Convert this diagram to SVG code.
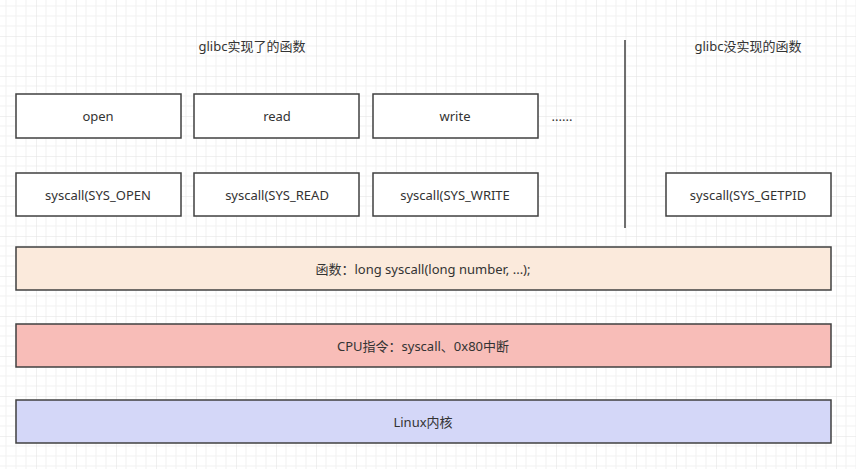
<svg xmlns="http://www.w3.org/2000/svg" width="856" height="469" viewBox="0 0 856 469">
<defs>
<pattern id="g" width="40" height="40" patternUnits="userSpaceOnUse" x="-4" y="-4">
<path d="M0 0H40M0 10H40M0 20H40M0 30H40M0 0V40M10 0V40M20 0V40M30 0V40" stroke="#f1f1f1" stroke-width="1" fill="none"/>
<path d="M0 0H40M0 0V40" stroke="#e6e6e6" stroke-width="1" fill="none"/>
</pattern>
</defs>
<style>
.b{fill:#fff;stroke:#404040;stroke-width:1.5}
text{font-family:"Noto Sans","Noto Sans CJK SC",sans-serif;font-size:13px;fill:#333;text-anchor:middle;dominant-baseline:central}
</style>
<rect width="856" height="469" fill="#fff"/>
<rect width="856" height="469" fill="url(#g)"/>
<text x="252" y="46">glibc实现了的函数</text>
<text x="748" y="46">glibc没实现的函数</text>
<g id="connectors"><line x1="625" y1="40" x2="625" y2="228" stroke="#404040" stroke-width="1.5"/></g>
<g id="open"><rect class="b" x="16" y="94" width="165" height="44"/><text x="98" y="116">open</text></g>
<g id="read"><rect class="b" x="194" y="94" width="165" height="44"/><text x="277" y="116">read</text></g>
<g id="write"><rect class="b" x="373" y="94" width="165" height="44"/><text x="455" y="116">write</text></g>
<text x="562" y="116">......</text>
<g id="sopen"><rect class="b" x="16" y="173" width="165" height="43"/><text x="98" y="195">syscall(SYS_OPEN</text></g>
<g id="sread"><rect class="b" x="194" y="173" width="165" height="43"/><text x="277" y="195">syscall(SYS_READ</text></g>
<g id="swrite"><rect class="b" x="373" y="173" width="165" height="43"/><text x="455" y="195">syscall(SYS_WRITE</text></g>
<g id="sgetpid"><rect class="b" x="666" y="173" width="165" height="43"/><text x="748" y="195">syscall(SYS_GETPID</text></g>
<g id="func"><rect class="b" x="16" y="247" width="815" height="43" style="fill:#fbeadc"/><text x="423" y="269">函数：long syscall(long number, ...);</text></g>
<g id="cpu"><rect class="b" x="16" y="324" width="815" height="43" style="fill:#f8bdb8"/><text x="423" y="346">CPU指令：syscall、0x80中断</text></g>
<g id="linux"><rect class="b" x="16" y="400" width="815" height="43" style="fill:#d4d7f8"/><text x="423" y="422">Linux内核</text></g>
</svg>
